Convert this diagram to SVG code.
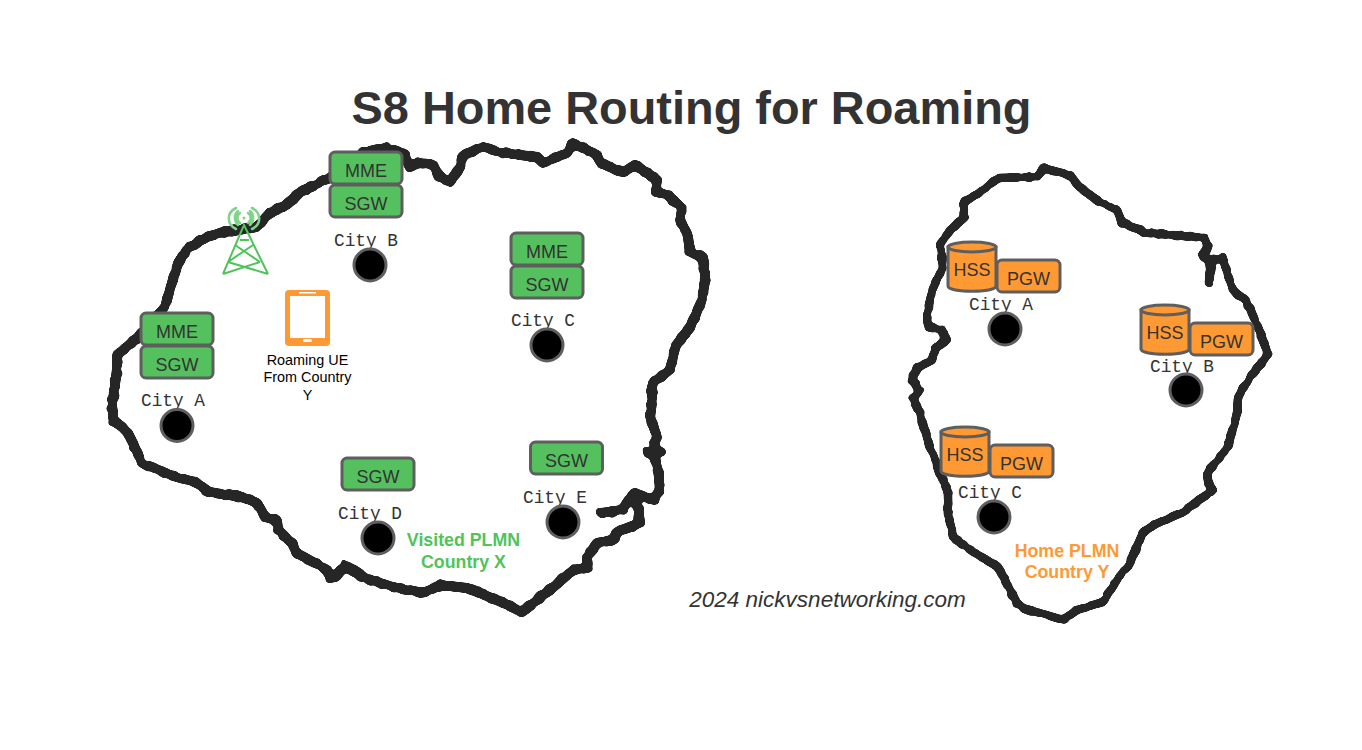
<svg xmlns="http://www.w3.org/2000/svg" width="1362" height="750" viewBox="0 0 1362 750">
<style>
.box{stroke:#5e5e5e;stroke-width:3}
.g{fill:#54c15e}
.o{fill:#ff9933}
.t{font:18px "Liberation Sans",Arial,sans-serif;fill:#333;text-anchor:middle}
.city{font:17.800px "Liberation Mono","Courier New",monospace;fill:#333}
.dot{fill:#000;stroke:#5e5e5e;stroke-width:3}
.outline{fill:none;stroke:#262626;stroke-width:10;stroke-linejoin:round;stroke-linecap:round}
.outline2{stroke-width:8.500}
.tower{fill:none;stroke:#4fc45a;stroke-width:2}
.wave{fill:none;stroke:#7fd488;stroke-width:2.500;stroke-linecap:round}
</style>
<defs>
<filter id="rough" x="-5%" y="-5%" width="110%" height="110%" color-interpolation-filters="sRGB">
<feTurbulence type="fractalNoise" baseFrequency="0.18" numOctaves="2" seed="4" result="n"/>
<feDisplacementMap in="SourceGraphic" in2="n" scale="4" xChannelSelector="R" yChannelSelector="G" result="d"/>
<feGaussianBlur in="d" stdDeviation="1.500"/>
<feColorMatrix type="matrix" values="0 0 0 0 0.149  0 0 0 0 0.149  0 0 0 0 0.149  0 0 0 7 -2.800"/>
</filter>
</defs>
<rect width="1362" height="750" fill="#fff"/>
<g id="land">
<path id="country-x" class="outline" filter="url(#rough)" d="M600 513L610 512L622 510L630 498L635 493L645 497L653 500L660 490L658 467L652 452L647 452H661L652 452L657 437L650 417L652 402L652 383L670 370L675 347L690 327L702 300L705 280L703 257L690 252L688 237L680 220L682 208L667 195L655 192L657 180L635 165L623 172L600 163L597 155L573 143L567 153L543 163L537 157L503 153L483 147L463 155L460 168L450 182L438 175L433 165L418 163L410 167L403 153L387 148L363 152L330 178L300 192L290 202L270 213L257 227L223 232L207 237L188 248L178 263L172 283L165 307L137 338L117 355L117 370L112 405L113 420L128 433L142 463L170 475L198 483L208 492L243 497L257 503L265 517L277 520L278 530L292 543L297 553L327 570L330 578L336 577L345 565L363 577L393 587L423 593L440 585L467 588L497 600L522 612L537 600L550 590L573 570L588 568L587 557L597 543L613 540L617 532L640 523L638 507L635 493"/>
<path id="country-y" class="outline outline2" filter="url(#rough)" d="M1043 168L1070 175L1080 188L1100 202L1117 210L1122 223L1147 233L1173 235L1205 238L1208 247L1202 255L1210 263L1209 283L1213 260L1223 258L1228 275L1233 290L1247 302L1258 327L1268 355L1250 377L1238 397L1237 413L1228 447L1207 473L1208 482L1213 490L1183 512L1160 522L1143 532L1130 563L1117 580L1103 602L1077 610L1063 620L1023 608L1017 603L998 567L970 550L953 537L948 513L948 493L940 473L930 447L920 413L913 398L920 390L912 380L917 368L932 360L935 348L947 340L942 330L928 327L927 313L933 288L943 267L940 245L950 230L965 217L963 203L983 190L998 178L1037 177Z"/>
</g>
<text x="691.500" y="123.500" font-family="Liberation Sans,Arial,sans-serif" font-size="46.900" font-weight="700" fill="#333" text-anchor="middle">S8 Home Routing for Roaming</text>
<g id="connectors"/>
<g id="tower">
<path class="tower" d="M223 274L244 225L268 274M228 262L268 274M260 262L223 274M235 245L260 262M253 245L228 262M240 240L249 240"/>
<circle cx="244" cy="218" r="1.500" fill="#7fd488"/>
<path class="wave" d="M240 213A6 6 0 0 0 240 223M248 213A6 6 0 0 1 248 223M238 211A11 10 0 0 0 238 225M250 211A11 10 0 0 1 250 225M236 208A14 12 0 0 0 236 229M252 208A14 12 0 0 1 252 229"/>
</g>
<g id="ue">
<rect x="285" y="290" width="45" height="56" rx="4" class="o"/>
<rect x="290" y="296" width="35" height="42" fill="#fff"/>
<rect x="299" y="292" width="17" height="1.500" fill="#fff"/>
<rect x="303" y="339" width="9" height="3" rx="1.500" fill="#fff"/>
<g font-family="Liberation Sans,Arial,sans-serif" font-size="14.400" fill="#000" text-anchor="middle">
<text x="307.500" y="365">Roaming UE</text>
<text x="307.500" y="382">From Country</text>
<text x="307.500" y="400">Y</text>
</g>
</g>
<g id="x-city-a">
<rect class="box g" x="141" y="313" width="72" height="32" rx="5"/><text class="t" x="177" y="338">MME</text>
<rect class="box g" x="141" y="346" width="72" height="32" rx="5"/><text class="t" x="177" y="371">SGW</text>
<text class="city" x="141" y="406">City A</text><circle class="dot" cx="177" cy="425.500" r="16"/>
</g>
<g id="x-city-b">
<rect class="box g" x="330" y="152" width="72" height="32" rx="5"/><text class="t" x="366" y="177">MME</text>
<rect class="box g" x="330" y="185" width="72" height="32" rx="5"/><text class="t" x="366" y="210">SGW</text>
<text class="city" x="334" y="246">City B</text><circle class="dot" cx="370" cy="265" r="16"/>
</g>
<g id="x-city-c">
<rect class="box g" x="511" y="233" width="72" height="32" rx="5"/><text class="t" x="547" y="258">MME</text>
<rect class="box g" x="511" y="266" width="72" height="32" rx="5"/><text class="t" x="547" y="291">SGW</text>
<text class="city" x="511" y="326">City C</text><circle class="dot" cx="547" cy="345" r="16"/>
</g>
<g id="x-city-d">
<rect class="box g" x="342" y="458" width="72" height="32" rx="5"/><text class="t" x="378" y="483">SGW</text>
<text class="city" x="338" y="519">City D</text><circle class="dot" cx="378" cy="538" r="16"/>
</g>
<g id="x-city-e">
<rect class="box g" x="530.500" y="442" width="72" height="32" rx="5"/><text class="t" x="566.500" y="467">SGW</text>
<text class="city" x="523" y="503">City E</text><circle class="dot" cx="563" cy="522" r="16"/>
</g>
<defs>
<g id="hss">
<path class="box o" d="M0 6V45C0 52 48 52 48 45V6Z"/>
<ellipse class="box o" cx="24" cy="6" rx="24" ry="5"/>
<text class="t" x="24" y="35">HSS</text>
</g>
</defs>
<g id="y-city-a">
<use href="#hss" x="948" y="241"/>
<rect class="box o" x="997" y="260" width="63" height="32" rx="5"/><text class="t" x="1028.500" y="285">PGW</text>
<text class="city" x="969" y="310">City A</text><circle class="dot" cx="1005" cy="329" r="16"/>
</g>
<g id="y-city-b">
<use href="#hss" x="1141" y="304"/>
<rect class="box o" x="1190" y="323" width="63" height="32" rx="5"/><text class="t" x="1221.500" y="348">PGW</text>
<text class="city" x="1150" y="372">City B</text><circle class="dot" cx="1186" cy="390" r="16"/>
</g>
<g id="y-city-c">
<use href="#hss" x="941" y="426"/>
<rect class="box o" x="990" y="445" width="63" height="32" rx="5"/><text class="t" x="1021.500" y="470">PGW</text>
<text class="city" x="958" y="498">City C</text><circle class="dot" cx="994" cy="517" r="16"/>
</g>
<g font-family="Liberation Sans,Arial,sans-serif" font-size="17.800" font-weight="700" text-anchor="middle">
<text x="463.500" y="546" fill="#4fc45a">Visited PLMN</text>
<text x="463.500" y="568" fill="#4fc45a">Country X</text>
<text x="1067" y="557" fill="#ff9933">Home PLMN</text>
<text x="1067" y="578" fill="#ff9933">Country Y</text>
</g>
<text x="827.500" y="607" font-family="Liberation Sans,Arial,sans-serif" font-size="22.500" font-style="italic" fill="#333" text-anchor="middle">2024 nickvsnetworking.com</text>
</svg>
